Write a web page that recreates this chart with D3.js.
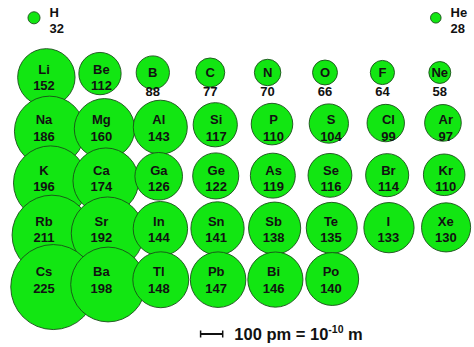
<!DOCTYPE html>
<html>
<head>
<meta charset="utf-8">
<style>
  body{margin:0;background:#fff;}
  svg text{font-family:"Liberation Sans",Arial,sans-serif;font-weight:bold;fill:#111;}
</style>
<script src="https://cdn.jsdelivr.net/npm/d3@7"></script>
</head>
<body>
<svg id="chart"></svg>
<script>
// atomic radii in pm, periods 1-6, main groups only
var symbols = ["H","He",
  "Li","Be","B","C","N","O","F","Ne",
  "Na","Mg","Al","Si","P","S","Cl","Ar",
  "K","Ca","Ga","Ge","As","Se","Br","Kr",
  "Rb","Sr","In","Sn","Sb","Te","I","Xe",
  "Cs","Ba","Tl","Pb","Bi","Po"];
var radiusPm = [32,28,
  152,112,88,77,70,66,64,58,
  186,160,143,117,110,104,99,97,
  196,174,126,122,119,116,114,110,
  211,192,144,141,138,135,133,130,
  225,198,148,147,146,140];
var period = [1,1,
  2,2,2,2,2,2,2,2,
  3,3,3,3,3,3,3,3,
  4,4,4,4,4,4,4,4,
  5,5,5,5,5,5,5,5,
  6,6,6,6,6,6];
var column = [0,7,
  0,1,2,3,4,5,6,7,
  0,1,2,3,4,5,6,7,
  0,1,2,3,4,5,6,7,
  0,1,2,3,4,5,6,7,
  0,1,2,3,4,5];
var scaleLabel = "100 pm = 10";
var scalePm = 100;

var width = 474, height = 347;
var svg = d3.select("#chart").attr("width",width).attr("height",height);

var x = d3.scaleLinear().domain([0,7]).range([44,445.8]);
var y = d3.scaleLinear().domain([1,6]).range([26.3,279.8]);
var r = d3.scaleLinear().domain([0,225]).range([0,42.5]);

var atoms = symbols.map(function(s,i){
  var tx = x(column[i]), ty = y(period[i]), rr = r(radiusPm[i]);
  var a = {sym:s, val:radiusPm[i], r:rr, anchor:"middle"};
  if(period[i]==1){
    a.cx = tx-10; a.cy = ty-8.5;
    a.lx = a.cx+rr+9.5; a.anchor = "start";
    a.sy = a.cy-1; a.vy = a.cy+15.5;
  }else if(period[i]==2 && radiusPm[i]<100){
    a.cx = tx-6; a.cy = ty-4.5;
    a.lx = a.cx; a.sy = a.cy+4.7; a.vy = ty+19;
  }else{
    a.cx = tx+0.5*(rr-24); a.cy = ty+0.5*(rr-28);
    a.lx = tx; a.sy = ty-3.5; a.vy = ty+13;
  }
  return a;
});

svg.append("g").selectAll("circle").data(atoms).enter().append("circle")
  .attr("cx",function(d){return d.cx;})
  .attr("cy",function(d){return d.cy;})
  .attr("r",function(d){return d.r;})
  .attr("fill","#12e612")
  .attr("stroke","#1a4d1a")
  .attr("stroke-width",0.9);

var labels = svg.append("g").attr("font-size",13);
labels.selectAll("text.sym").data(atoms).enter().append("text")
  .attr("class","sym")
  .attr("x",function(d){return d.lx;})
  .attr("y",function(d){return d.sy;})
  .attr("text-anchor",function(d){return d.anchor;})
  .text(function(d){return d.sym;});
labels.selectAll("text.val").data(atoms).enter().append("text")
  .attr("class","val")
  .attr("x",function(d){return d.lx;})
  .attr("y",function(d){return d.vy;})
  .attr("text-anchor",function(d){return d.anchor;})
  .text(function(d){return d.val;});

// scale bar
var bar = svg.append("g").attr("transform","translate(222.7,334)");
var len = r(scalePm)*1.17;
bar.append("line").attr("x1",-len).attr("x2",0).attr("y1",0).attr("y2",0)
  .attr("stroke","#111").attr("stroke-width",2);
bar.selectAll("line.tick").data([-len,0]).enter().append("line")
  .attr("class","tick")
  .attr("x1",function(d){return d;}).attr("x2",function(d){return d;})
  .attr("y1",-3.5).attr("y2",3.5)
  .attr("stroke","#111").attr("stroke-width",1.5);
var t = bar.append("text").attr("x",11.6).attr("y",6).attr("font-size",16.5);
t.append("tspan").text(scaleLabel);
t.append("tspan").attr("font-size",10.5).attr("dy",-7).text("-10");
t.append("tspan").attr("dy",7).text(" m");
</script>
</body>
</html>
